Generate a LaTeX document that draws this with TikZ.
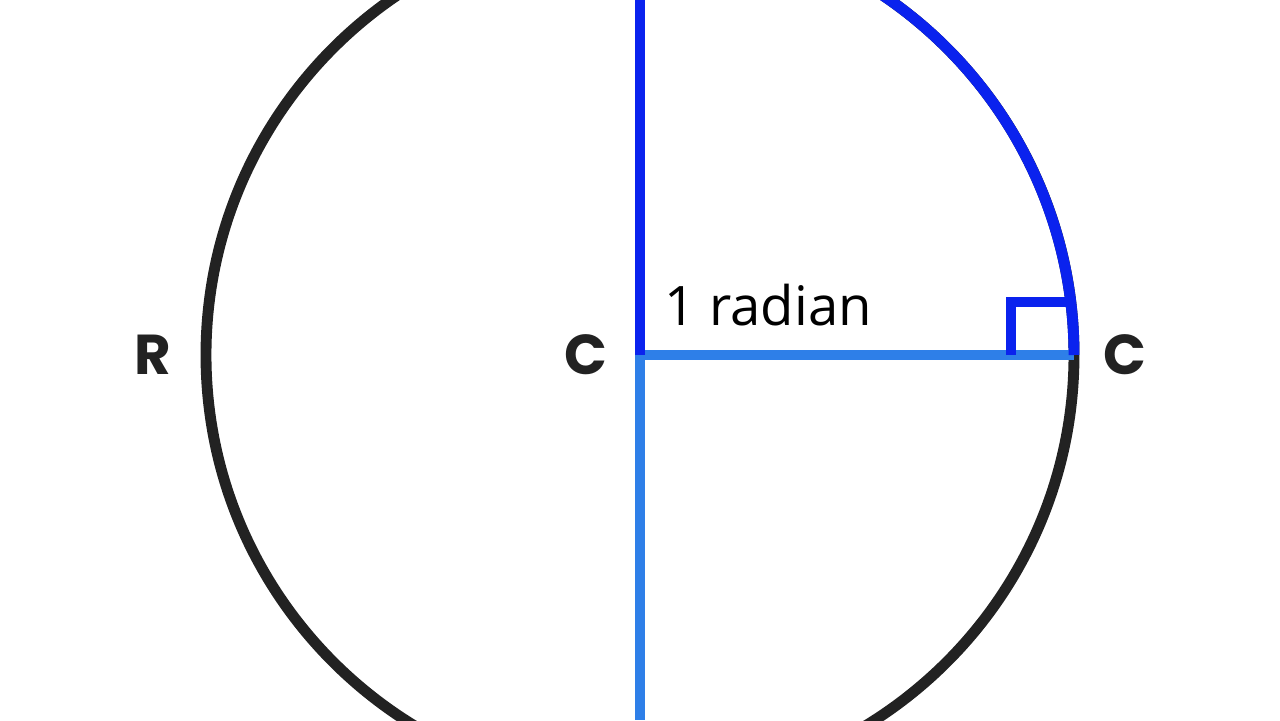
\documentclass[tikz,border=0pt]{standalone}
\usepackage{fontspec}
\setmainfont{Open Sans}
\newfontfamily\labelfont{Poppins}
\usepackage{tikz}

\definecolor{arcblue}{HTML}{0A22EE}
\definecolor{lineblue}{HTML}{2E7FE8}
\definecolor{rimgray}{HTML}{222222}

\tikzset{
  rim/.style={draw=rimgray, line width=6.2pt},
  radius line/.style={draw=lineblue, line width=6.2pt},
  arc line/.style={draw=arcblue, line width=6.2pt},
  pointlabel/.style={font=\labelfont\bfseries\fontsize{32}{32}\selectfont, text=rimgray}
}

\begin{document}
\begin{tikzpicture}[x=0.02cm, y=0.02cm]
   \useasboundingbox (-640,-365) rectangle (640,355);

   \coordinate (centre) at (0,0);
   \coordinate (rim right) at (434,0);
   \coordinate (top) at (0,355);
   \coordinate (bottom) at (0,-365);

   \draw[rim] (centre) circle (434);

   % radii
   \draw[radius line] (centre) -- (bottom);
   \draw[radius line] (centre) -- (rim right);
   \draw[arc line] (centre) -- (top);

   % the arc of one radian
   \draw[arc line] (rim right) arc (0:62:434);

   % right angle mark
   \draw[arc line] (371,0) |- (429,53);

   \node[pointlabel] (r) at (-487,0) {R};
   \node[pointlabel] (c left) at (-54,0) {C};
   \node[pointlabel] (c right) at (485,0) {C};
   \node[text=black, font=\fontsize{31}{31}\selectfont] (rad) at (128,50) {1 radian};
\end{tikzpicture}
\end{document}
